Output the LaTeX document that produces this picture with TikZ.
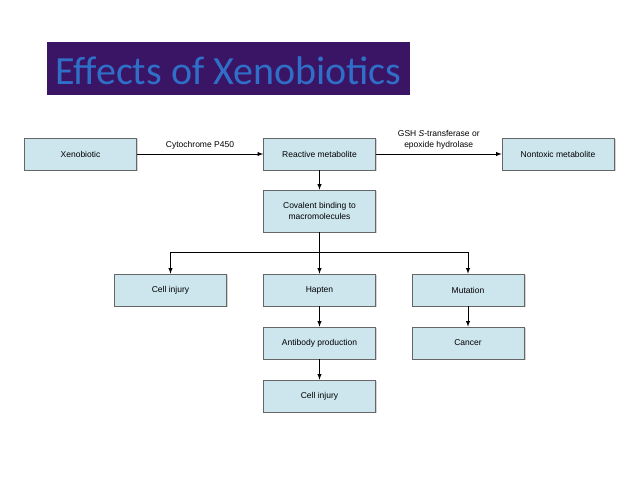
\documentclass[tikz,border=0pt]{standalone}
\usepackage{fontspec}
\setmainfont{Liberation Sans}
\newfontfamily\titlefont{Carlito}
\usetikzlibrary{shadows}
\definecolor{boxfill}{HTML}{CDE6EE}
\definecolor{titlebg}{HTML}{3A1565}
\definecolor{titlefg}{HTML}{2F6FC8}
\tikzset{
 bx/.style={draw=black!60, line width=0.6pt, fill=boxfill, minimum width=112pt, minimum height=32pt, inner sep=1pt, align=center, font=\fontsize{8.5}{10.5}\selectfont, drop shadow={shadow xshift=1.5pt, shadow yshift=-1.5pt, opacity=0.35}},
 ar/.style={-latex, line width=0.9pt},
 ln/.style={line width=0.9pt},
 lb/.style={font=\fontsize{8.5}{10.5}\selectfont, align=center}
}
\begin{document}
\begin{tikzpicture}[x=1pt,y=-1pt]
\useasboundingbox (0,0) rectangle (638,478);
\node[fill=titlebg, minimum width=363pt, minimum height=53pt, anchor=north west, inner sep=0] (title) at (47,42) {};
\node[anchor=west, text=titlefg, font=\titlefont\fontsize{40}{42}\selectfont] (tt) at (52,71) {Effects of Xenobiotics};
\node[bx] (xen) at (80.5,154) {Xenobiotic};
\node[bx] (rm) at (319.5,154) {Reactive metabolite};
\node[bx] (nt) at (558,154) {Nontoxic metabolite};
\node[bx, minimum height=42pt] (cb) at (319.5,211) {Covalent binding to\\macromolecules};
\node[bx] (ci1) at (170.5,290) {Cell injury};
\node[bx] (hap) at (319.5,290) {Hapten};
\node[bx] (mut) at (468,290) {Mutation};
\node[bx] (ab) at (319.5,343) {Antibody production};
\node[bx] (can) at (468,343) {Cancer};
\node[bx] (ci2) at (319.5,396) {Cell injury};
\coordinate (br) at (319.5,252);
\coordinate (bl) at (170.5,252);
\coordinate (brr) at (468,252);
\draw[ar] (xen) -- node[lb, above=1pt] {Cytochrome P450} (rm);
\draw[ar] (rm) -- node[lb, above=1pt] {GSH \textit{S}-transferase or\\epoxide hydrolase} (nt);
\draw[ar] (rm) -- (cb);
\draw[ln] (cb) -- (br);
\draw[ln] (bl) -- (brr);
\draw[ar] (bl) -- (ci1);
\draw[ar] (br) -- (hap);
\draw[ar] (brr) -- (mut);
\draw[ar] (hap) -- (ab);
\draw[ar] (ab) -- (ci2);
\draw[ar] (mut) -- (can);
\end{tikzpicture}
\end{document}
